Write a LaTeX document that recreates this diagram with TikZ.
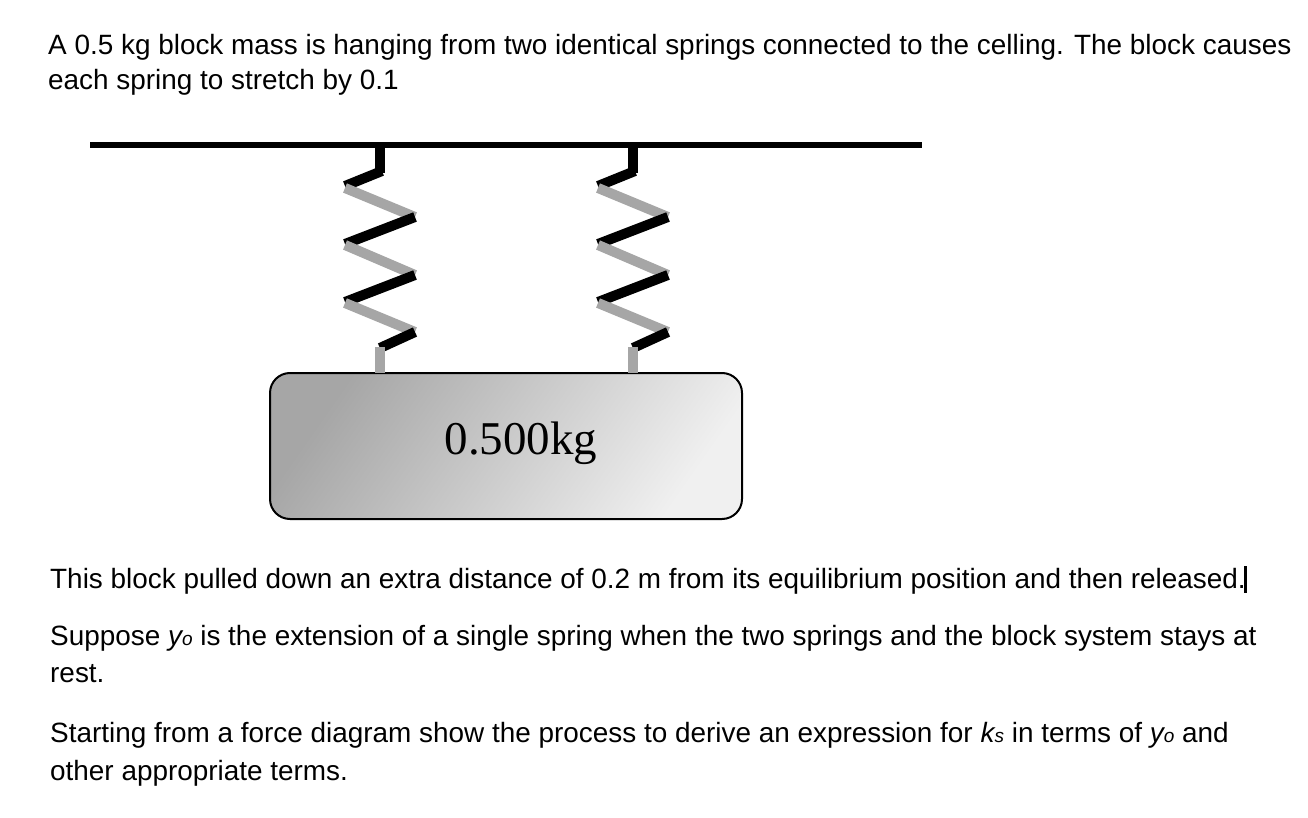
\documentclass[tikz,border=0pt]{standalone}
\usepackage{fontspec}
\setmainfont{Liberation Sans}
\newfontfamily\serifb{Liberation Serif}
\begin{document}
\begin{tikzpicture}[x=1pt,y=-1pt,
  txt/.style={anchor=base west,inner sep=0pt,font=\fontsize{27.9}{32}\selectfont},
  blk/.style={line width=10pt,black},
  gry/.style={line width=10pt,gray!70}]
\useasboundingbox (0,0) rectangle (1308,818);
\node[txt] (t1) at (48,55) {A 0.5 kg block mass is hanging from two identical springs connected to the celling. The block causes};
\node[txt] (t2) at (48,90) {each spring to stretch by 0.1};
\draw[line width=6pt] (90,145) -- (922,145);
\node[draw=black,line width=2pt,rounded corners=20pt,minimum width=472pt,minimum height=146pt,
  shading=axis,left color=gray!70,right color=gray!12,shading angle=55] (m) at (506,446) {};
\node[font=\serifb\fontsize{47}{50}\selectfont] (ml) at (521,443) {0.500kg};
\foreach \dx in {0,253}{
 \begin{scope}[xshift=\dx]
 \draw[blk] (380,145) -- (380,173);
 \draw[blk] (382,171) -- (345,186);
 \draw[gry] (345,188) -- (415,217);
 \draw[blk] (415,217) -- (345,244);
 \draw[gry] (345,245) -- (415,275);
 \draw[blk] (415,275) -- (345,302);
 \draw[gry] (345,303) -- (415,332);
 \draw[blk] (415,332) -- (380,348);
 \draw[gry] (380,347) -- (380,373);
 \end{scope}}
\node[txt] (t3) at (50,588) {This block pulled down an extra distance of 0.2 m from its equilibrium position and then released.};
\draw[line width=3pt] (1245,566) -- (1245,593);
\node[txt] (t4) at (50,645) {Suppose {\itshape y\fontsize{19}{19}\selectfont o} is the extension of a single spring when the two springs and the block system stays at};
\node[txt] (t5) at (50,682) {rest.};
\node[txt] (t6) at (50,742) {Starting from a force diagram show the process to derive an expression for {\itshape k\fontsize{19}{19}\selectfont s} in terms of {\itshape y\fontsize{19}{19}\selectfont o} and};
\node[txt] (t7) at (50,780) {other appropriate terms.};
\end{tikzpicture}
\end{document}
